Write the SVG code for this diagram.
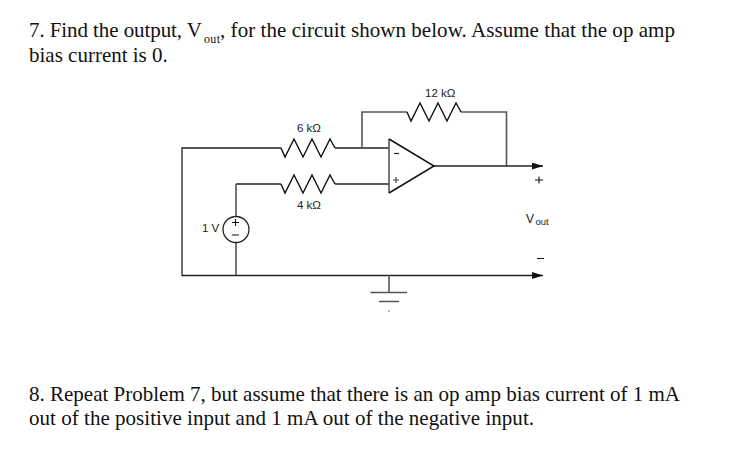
<svg xmlns="http://www.w3.org/2000/svg" width="739" height="464" viewBox="0 0 739 464">
<style>
.t{font-family:"Liberation Serif",serif;font-size:21px;fill:#111}
.s{font-family:"Liberation Serif",serif;font-size:12px;fill:#111}
.l{font-family:"Liberation Sans",sans-serif;font-size:11.500px;fill:#222}
.w{fill:none;stroke:#222;stroke-width:1.3}
.g{fill:none;stroke:#555;stroke-width:1.6}
.k{fill:none;stroke:#111;stroke-width:1.5}
</style>
<defs>
<marker id="a" markerWidth="11" markerHeight="7" refX="11" refY="3.500" markerUnits="userSpaceOnUse" orient="auto"><path d="M0 0L11 3.500L0 7Z" fill="#111"/></marker>
<path id="r" d="M0 0L4 9L13 -9L22 9L31 -9L40 9L49 -9L54 0" fill="none" stroke="#111" stroke-width="1.4"/>
</defs>
<rect width="739" height="464" fill="#fff"/>
<text class="t" x="29" y="37" textLength="173">7. Find the output, V</text>
<text class="s" x="204" y="43" textLength="16">out</text>
<text class="t" x="220" y="37" textLength="455">, for the circuit shown below. Assume that the op amp</text>
<text class="t" x="29" y="62">bias current is 0.</text>
<text class="t" x="29" y="401" textLength="651">8. Repeat Problem 7, but assume that there is an op amp bias current of 1 mA</text>
<text class="t" x="29" y="425" textLength="505">out of the positive input and 1 mA out of the negative input.</text>
<g id="connectors">
<path class="w" d="M281 148H182V275.500H236"/>
<path class="w" d="M236 184H281"/>
<path class="g" d="M236 184V216M236 243V275"/>
<path class="w" d="M335 148H389M335 184H389"/>
<path class="g" d="M362 148V112H407M461 112H506.500V166"/>
<path class="w" d="M434 166H543" marker-end="url(#a)"/>
<path class="w" d="M236 275.500H543" marker-end="url(#a)"/>
<path class="g" d="M389 275V292"/>
</g>
<g id="r1"><use href="#r" x="281" y="148"/><text class="l" x="297" y="132">6 kΩ</text></g>
<g id="r2"><use href="#r" x="281" y="184"/><text class="l" x="297" y="208.500">4 kΩ</text></g>
<g id="r3"><use href="#r" x="407" y="112"/><text class="l" x="425" y="96.500">12 kΩ</text></g>
<g id="opamp">
<path class="g" d="M389 139V193"/>
<path class="k" d="M389 139L434 166L389 193"/>
<path d="M394 153.500H399" stroke="#222" stroke-width="1.2"/>
<path d="M393 180H399M396 177V183" stroke="#345" stroke-width="1.2"/>
</g>
<g id="source">
<circle cx="236" cy="229.500" r="13" fill="#fff" stroke="#222" stroke-width="1.3"/>
<path d="M232 222.500H239M235.500 219V226M232 235H239" stroke="#111" stroke-width="1.1"/>
<text class="l" x="202" y="232">1 V</text>
</g>
<g id="ground">
<path class="g" d="M370.500 292.500H407M379 301.500H399M389 310.500V311.500"/>
</g>
<g id="output">
<path d="M535 180H543M539 176.500V183.500M537 258.500H544" stroke="#111" stroke-width="1.1"/>
<text class="l" x="526" y="223" style="font-size:12px">V</text>
<text class="l" x="535.500" y="225" style="font-size:9.500px">out</text>
</g>
</svg>
